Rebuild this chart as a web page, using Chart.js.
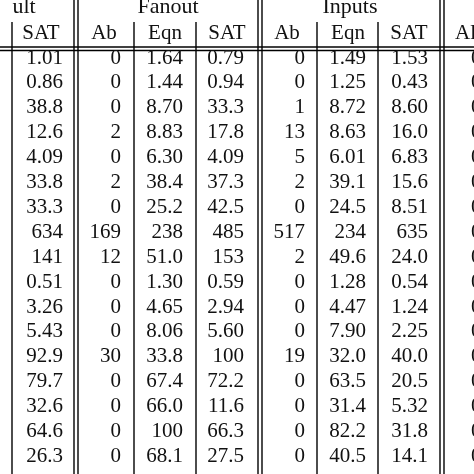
<!DOCTYPE html>
<html><head><meta charset="utf-8">
<script src="https://cdn.jsdelivr.net/npm/chart.js@4"></script>
<style>html,body{margin:0;padding:0;background:#fff}</style>
</head><body>
<canvas id="c" width="474" height="474"></canvas>
<script>
const groupHeaders = ["ult", "Fanout", "Inputs"];
const subHeaders = ["SAT", "Ab", "Eqn", "SAT", "Ab", "Eqn", "SAT", "Al"];
const faultSAT = ["1.01","0.86","38.8","12.6","4.09","33.8","33.3","634","141","0.51","3.26","5.43","92.9","79.7","32.6","64.6","26.3"];
const fanAb = ["0","0","0","2","0","2","0","169","12","0","0","0","30","0","0","0","0"];
const fanEqn = ["1.64","1.44","8.70","8.83","6.30","38.4","25.2","238","51.0","1.30","4.65","8.06","33.8","67.4","66.0","100","68.1"];
const fanSAT = ["0.79","0.94","33.3","17.8","4.09","37.3","42.5","485","153","0.59","2.94","5.60","100","72.2","11.6","66.3","27.5"];
const inAb = ["0","0","1","13","5","2","0","517","2","0","0","0","19","0","0","0","0"];
const inEqn = ["1.49","1.25","8.72","8.63","6.01","39.1","24.5","234","49.6","1.28","4.47","7.90","32.0","63.5","31.4","82.2","40.5"];
const inSAT = ["1.53","0.43","8.60","16.0","6.83","15.6","8.51","635","24.0","0.54","1.24","2.25","40.0","20.5","5.32","31.8","14.1"];
const columns = [faultSAT, fanAb, fanEqn, fanSAT, inAb, inEqn, inSAT];

// layout (pixel units on the hidden linear scales)
const colRight = [63, 121, 183, 244, 305, 366, 428];
const singleLines = [12, 134, 196, 317, 378];
const doubleLines = [74, 258, 440];
const groupCenters = [24, 168, 350];
const rowY0 = 58, rowStep = 24.9, subY = 33, groupY = 7;

const tablePlugin = {
  id: 'table',
  afterDraw(chart) {
    const ctx = chart.ctx, X = v => chart.scales.x.getPixelForValue(v), Y = v => chart.scales.y.getPixelForValue(v);
    ctx.save();
    ctx.fillStyle = '#111'; ctx.strokeStyle = '#000'; ctx.lineWidth = 1.4;
    ctx.font = '21px "Liberation Serif", "DejaVu Serif", serif';
    ctx.textBaseline = 'middle';
    const vline = (x, y1, y2) => { ctx.beginPath(); ctx.moveTo(X(x), Y(y1)); ctx.lineTo(X(x), Y(y2)); ctx.stroke(); };
    singleLines.forEach(x => vline(x, 22, 474));
    doubleLines.forEach(x => { vline(x, 0, 474); vline(x + 4, 0, 474); });
    ctx.beginPath(); ctx.moveTo(X(0), Y(47)); ctx.lineTo(X(474), Y(47)); ctx.stroke();
    ctx.beginPath(); ctx.moveTo(X(0), Y(50.5)); ctx.lineTo(X(474), Y(50.5)); ctx.stroke();
    ctx.textAlign = 'center';
    ctx.font = '22px "Liberation Serif", "DejaVu Serif", serif';
    groupHeaders.forEach((h, i) => ctx.fillText(h, X(groupCenters[i]), Y(groupY)));
    ctx.font = '21px "Liberation Serif", "DejaVu Serif", serif';
    const subCenters = [41, 104, 165, 227, 287, 348, 409];
    subHeaders.slice(0, 7).forEach((h, i) => ctx.fillText(h, X(subCenters[i]), Y(subY)));
    ctx.textAlign = 'left';
    ctx.fillText(subHeaders[7], X(455), Y(subY));
    ctx.textAlign = 'right';
    columns.forEach((col, c) => col.forEach((v, r) => ctx.fillText(v, X(colRight[c]), Y(rowY0 + r * rowStep))));
    ctx.textAlign = 'left';
    faultSAT.forEach((_, r) => ctx.fillText('0', X(471), Y(rowY0 + r * rowStep)));
    ctx.restore();
  }
};

new Chart(document.getElementById('c'), {
  type: 'scatter',
  data: { datasets: [{ data: [], pointRadius: 0 }] },
  options: {
    responsive: false, animation: false,
    layout: { padding: 0 },
    plugins: { legend: { display: false }, tooltip: { enabled: false } },
    scales: {
      x: { type: 'linear', min: 0, max: 474, display: false },
      y: { type: 'linear', min: 0, max: 474, reverse: true, display: false }
    }
  },
  plugins: [tablePlugin]
});
</script>
</body></html>
